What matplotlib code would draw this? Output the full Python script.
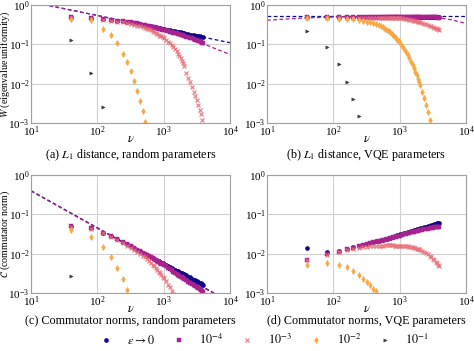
import matplotlib
matplotlib.use("Agg")
import matplotlib.pyplot as plt

# ---------------------------------------------------------------------------
# data
# ---------------------------------------------------------------------------
NU = [40, 80, 120, 160, 200, 240, 280, 320, 360, 400,
      440, 480, 520, 560, 600, 640, 680, 720, 760, 800, 840, 880, 920, 960, 1000,
      1080, 1160, 1240, 1320, 1400, 1480, 1560, 1640, 1720, 1800, 1880, 1960, 2040,
      2200, 2360, 2520, 2680, 2840, 3000, 3160, 3320, 3480, 3640, 3800, 3960]
NU_SHORT = [40, 80, 120, 160, 200, 240, 280, 320, 360, 400, 440, 480, 520]

LABELS = [r"$\epsilon \to 0$", r"$10^{-4}$", r"$10^{-3}$", r"$10^{-2}$", r"$10^{-1}$"]

# (a) L1 distance, random parameters
a_eps0 = [0.49, 0.46, 0.44, 0.42, 0.40, 0.385, 0.37, 0.36, 0.35, 0.34,
          0.33, 0.318, 0.308, 0.30, 0.292, 0.285, 0.279, 0.273, 0.268, 0.264,
          0.26, 0.255, 0.251, 0.248, 0.244,
          0.238, 0.232, 0.227, 0.222, 0.217, 0.213, 0.209, 0.206, 0.203, 0.200,
          0.197, 0.194, 0.191,
          0.186, 0.181, 0.177, 0.173, 0.170, 0.167, 0.164, 0.161, 0.159, 0.157,
          0.154, 0.152]
a_em4 = [0.49, 0.46, 0.44, 0.42, 0.40, 0.385, 0.37, 0.36, 0.35, 0.34,
         0.33, 0.318, 0.308, 0.30, 0.29, 0.282, 0.275, 0.268, 0.262, 0.256,
         0.251, 0.246, 0.241, 0.237, 0.233,
         0.225, 0.218, 0.211, 0.205, 0.199, 0.194, 0.189, 0.184, 0.18, 0.176,
         0.172, 0.168, 0.165,
         0.158, 0.152, 0.146, 0.141, 0.136, 0.131, 0.126, 0.122, 0.118, 0.113,
         0.109, 0.105]
a_em3 = [0.47, 0.45, 0.42, 0.40, 0.38, 0.36, 0.345, 0.33, 0.315, 0.30,
         0.288, 0.275, 0.262, 0.25, 0.24, 0.228, 0.217, 0.205, 0.195, 0.186,
         0.176, 0.167, 0.159, 0.151, 0.144,
         0.13, 0.117, 0.106, 0.095, 0.086, 0.075, 0.066, 0.057, 0.05, 0.044,
         0.038, 0.033, 0.028,
         0.019, 0.014, 0.011, 0.0083, 0.0063, 0.0049, 0.0038, 0.0029, 0.0021,
         0.0017, 0.0012, 0.0009]
a_em2 = [0.44, 0.41, 0.24, 0.17, 0.105, 0.058, 0.036, 0.021, 0.0118, 0.0066,
         0.0036, 0.002, 0.00107]
a_em1 = [0.128, 0.019, 0.0026]
a_fit_x = [10, 10000]
a_fit0 = [1.2, 0.11]
a_fit4_x = [10, 100, 1000, 2000, 4000, 10000]
a_fit4 = [1.2, 0.54, 0.235, 0.165, 0.102, 0.055]

# (b) L1 distance, VQE parameters
b_eps0 = [0.50, 0.50, 0.50, 0.50, 0.50, 0.50, 0.50, 0.50, 0.50, 0.50,
          0.50, 0.50, 0.50, 0.50, 0.50, 0.50, 0.50, 0.50, 0.50, 0.50,
          0.50, 0.50, 0.50, 0.50, 0.50,
          0.50, 0.50, 0.50, 0.50, 0.50, 0.50, 0.50, 0.50, 0.50, 0.50,
          0.50, 0.50, 0.50,
          0.50, 0.50, 0.50, 0.50, 0.50, 0.50, 0.50, 0.50, 0.50, 0.50,
          0.50, 0.50]
b_em4 = [0.49, 0.49, 0.49, 0.49, 0.49, 0.49, 0.49, 0.49, 0.49, 0.49,
         0.49, 0.49, 0.49, 0.49, 0.49, 0.49, 0.49, 0.49, 0.49, 0.49,
         0.49, 0.49, 0.49, 0.49, 0.49,
         0.49, 0.49, 0.49, 0.49, 0.49, 0.49, 0.49, 0.49, 0.49, 0.49,
         0.49, 0.49, 0.49,
         0.488, 0.488, 0.486, 0.486, 0.485, 0.485, 0.484, 0.483, 0.482, 0.481,
         0.48, 0.48]
b_em3 = [0.47, 0.48, 0.48, 0.48, 0.48, 0.48, 0.48, 0.48, 0.48, 0.48,
         0.48, 0.48, 0.48, 0.48, 0.48, 0.48, 0.48, 0.48, 0.477, 0.475,
         0.472, 0.47, 0.467, 0.464, 0.46,
         0.455, 0.448, 0.44, 0.433, 0.425, 0.418, 0.41, 0.402, 0.395, 0.387,
         0.38, 0.372, 0.365,
         0.35, 0.336, 0.322, 0.31, 0.298, 0.287, 0.276, 0.266, 0.257, 0.249,
         0.241, 0.235]
b_em2 = [0.46, 0.46, 0.45, 0.44, 0.43, 0.41, 0.40, 0.38, 0.365, 0.35,
         0.33, 0.31, 0.29, 0.27, 0.252, 0.235, 0.217, 0.20, 0.185, 0.17,
         0.157, 0.145, 0.132, 0.12, 0.11,
         0.093, 0.078, 0.065, 0.054, 0.044, 0.036, 0.03, 0.025, 0.02, 0.0165,
         0.0135, 0.011, 0.0092,
         0.0062, 0.0042, 0.0028, 0.0019, 0.0012, 0.0008]
b_em1 = [0.22, 0.087, 0.031, 0.011, 0.0041, 0.0015]
b_fit_x = [10, 10000]
b_fit0 = [0.515, 0.515]
b_fit4_x = [10, 20, 40, 80, 150, 1000, 3000, 4000, 6000, 10000]
b_fit4 = [0.41, 0.44, 0.47, 0.49, 0.50, 0.50, 0.49, 0.47, 0.42, 0.34]

# (c) Commutator norms, random parameters
c_eps0 = [0.05, 0.045, 0.034, 0.028, 0.023, 0.0195, 0.0172, 0.0153, 0.0138, 0.0125,
          0.0115, 0.0106, 0.0098, 0.0093, 0.0087, 0.0082, 0.0078, 0.0074, 0.0070,
          0.0067, 0.0064, 0.0062, 0.0059, 0.0057, 0.0055,
          0.0051, 0.0048, 0.0046, 0.0043, 0.0041, 0.0039, 0.0037, 0.0036, 0.0034,
          0.0033, 0.0032, 0.0031, 0.0030,
          0.0028, 0.0026, 0.0025, 0.0023, 0.0022, 0.0021, 0.0020, 0.0019, 0.0018,
          0.00175, 0.00168, 0.0016]
c_em4 = [0.05, 0.045, 0.034, 0.028, 0.023, 0.0195, 0.0172, 0.0153, 0.0138, 0.0125,
         0.0115, 0.0106, 0.0098, 0.0093, 0.0086, 0.0081, 0.0076, 0.0072, 0.0068,
         0.0065, 0.0062, 0.0059, 0.0056, 0.0054, 0.0052,
         0.0048, 0.0044, 0.0041, 0.0038, 0.0035, 0.0033, 0.0031, 0.0029, 0.0027,
         0.0026, 0.0025, 0.0024, 0.0023,
         0.0021, 0.0019, 0.0018, 0.0017, 0.0016, 0.0015, 0.0014, 0.00132, 0.00125,
         0.00118, 0.00111, 0.00105]
c_em3 = [0.047, 0.043, 0.033, 0.027, 0.022, 0.0185, 0.016, 0.014, 0.0124, 0.011,
         0.0098, 0.0088, 0.008, 0.0072, 0.0065, 0.0059, 0.0053, 0.0048, 0.0043,
         0.0039, 0.0035, 0.0032, 0.0029, 0.0026, 0.0024,
         0.002, 0.0016, 0.0014, 0.0011, 0.00092]
c_em2 = [0.04, 0.027, 0.015, 0.008, 0.0044, 0.0023, 0.0012]
c_em1 = [0.0027]
c_fit_x = [10, 10000]
c_fit0 = [0.40, 0.00059]
c_fit4 = [0.39, 0.00057]

# (d) Commutator norms, VQE parameters
d_eps0 = [0.014, 0.011, 0.0115, 0.013, 0.0148, 0.016, 0.017, 0.018, 0.019, 0.0198,
          0.0207, 0.0215, 0.022, 0.0225, 0.0233, 0.024, 0.0248, 0.0255, 0.0262,
          0.027, 0.0278, 0.0285, 0.0293, 0.030, 0.031,
          0.032, 0.0335, 0.0345, 0.0355, 0.0365, 0.0375, 0.0385, 0.0395, 0.0405,
          0.0415, 0.0422, 0.043, 0.044,
          0.0455, 0.047, 0.0485, 0.05, 0.0515, 0.053, 0.0545, 0.056, 0.0575,
          0.059, 0.0605, 0.062]
d_em4 = [0.0071, 0.0096, 0.0113, 0.0128, 0.0143, 0.0155, 0.0165, 0.0175, 0.0185,
         0.0193, 0.02, 0.0208, 0.0214, 0.022, 0.0227, 0.0233, 0.024, 0.0246,
         0.0252, 0.0258, 0.0264, 0.027, 0.0276, 0.0282, 0.0288,
         0.030, 0.031, 0.032, 0.033, 0.0338, 0.0346, 0.0354, 0.0362, 0.037,
         0.0377, 0.0383, 0.039, 0.0395,
         0.0405, 0.0415, 0.0424, 0.0432, 0.044, 0.0448, 0.0456, 0.0463, 0.047,
         0.0477, 0.0484, 0.049]
d_em3 = [0.0068, 0.0093, 0.011, 0.0124, 0.0135, 0.0143, 0.0148, 0.0152, 0.0155,
         0.0157, 0.0159, 0.016, 0.0161, 0.0161, 0.0162, 0.0162, 0.0162, 0.0162,
         0.0162, 0.0162, 0.0161, 0.0161, 0.016, 0.016, 0.0159,
         0.0158, 0.0157, 0.0155, 0.0153, 0.015, 0.0148, 0.0145, 0.0142, 0.0139,
         0.0135, 0.0132, 0.0128, 0.0125,
         0.0118, 0.011, 0.0103, 0.0096, 0.0089, 0.0082, 0.0075, 0.0069, 0.0063,
         0.0058, 0.0053, 0.0049]
d_em2 = [0.0053, 0.0058, 0.0053, 0.0045, 0.0036, 0.0028, 0.0023, 0.0019,
         0.0016, 0.0013, 0.0011]

# ---------------------------------------------------------------------------
# style
# ---------------------------------------------------------------------------
plt.rcParams['font.family'] = ['Liberation Serif', 'DejaVu Serif']
plt.rcParams['mathtext.fontset'] = 'stix'

COLORS = ['#0d0887', '#a8228f', '#e8707a', '#f9a73e', '#3a3a3a']
MARKERS = ['o', 's', 'x', 'd', '>']
SIZES = [3.0, 3.0, 3.5, 3.2, 2.4]


def scatter_series(ax, xs_list, ys_list):
    for i, (xs, ys) in enumerate(zip(xs_list, ys_list)):
        if ys is None:
            continue
        ax.plot(xs[:len(ys)], ys, linestyle='none', marker=MARKERS[i],
                color=COLORS[i], ms=SIZES[i],
                mew=0.9 if MARKERS[i] == 'x' else 0.3,
                alpha=0.85 if i == 2 else 1.0, label=LABELS[i])


def style_axes(ax, caption, cap_y, ylabel=None):
    ax.set_xscale('log')
    ax.set_yscale('log')
    ax.set_xlim(10, 1e4)
    ax.set_ylim(1e-3, 1)
    ax.grid(True, color='#d0d0d0', lw=0.8)
    ax.set_axisbelow(True)
    ax.minorticks_off()
    ax.tick_params(length=0, labelsize=8, pad=1)
    for s in ax.spines.values():
        s.set_color('#a0a0a0')
        s.set_linewidth(0.8)
    ax.set_xlabel(r"$\nu$", fontsize=9, labelpad=-4)
    if ylabel:
        ax.set_ylabel(ylabel, fontsize=7.2)
        ax.yaxis.set_label_coords(-0.095, 0.5)
    ax.text(0.5, cap_y, caption, transform=ax.transAxes, ha='center',
            va='center', fontsize=8.7)


fig = plt.figure(figsize=(4.74, 3.51), dpi=100)
ax_a = fig.add_axes([0.0654, 0.6496, 0.42, 0.3362])
ax_b = fig.add_axes([0.5633, 0.6496, 0.42, 0.3362])
ax_c = fig.add_axes([0.0654, 0.1652, 0.42, 0.3362])
ax_d = fig.add_axes([0.5633, 0.1652, 0.42, 0.3362])

# (a)
ax_a.plot(a_fit_x, a_fit0, '--', color=COLORS[0], lw=0.9, dashes=(3, 2))
ax_a.plot(a_fit4_x, a_fit4, '--', color=COLORS[1], lw=0.9, dashes=(3, 2))
scatter_series(ax_a, [NU, NU, NU, NU_SHORT, NU_SHORT],
               [a_eps0, a_em4, a_em3, a_em2, a_em1])
style_axes(ax_a, r"(a) $L_1$ distance, random parameters", -0.27,
           r"$W$ (eigenvalue uniformity)")

# (b)
ax_b.plot(b_fit_x, b_fit0, '--', color=COLORS[0], lw=0.9, dashes=(3, 2))
ax_b.plot(b_fit4_x, b_fit4, '--', color=COLORS[1], lw=0.9, dashes=(3, 2))
scatter_series(ax_b, [NU, NU, NU, NU, NU_SHORT],
               [b_eps0, b_em4, b_em3, b_em2, b_em1])
style_axes(ax_b, r"(b) $L_1$ distance, VQE parameters", -0.27)

# (c)
ax_c.plot(c_fit_x, c_fit0, '--', color=COLORS[0], lw=0.9, dashes=(3, 2))
ax_c.plot(c_fit_x, c_fit4, '--', color=COLORS[1], lw=0.9, dashes=(3, 2))
scatter_series(ax_c, [NU, NU, NU, NU_SHORT, NU_SHORT],
               [c_eps0, c_em4, c_em3, c_em2, c_em1])
style_axes(ax_c, "(c) Commutator norms, random parameters", -0.24,
           r"$\mathcal{C}$ (commutator norm)")

# (d)
scatter_series(ax_d, [NU, NU, NU, NU_SHORT, NU_SHORT],
               [d_eps0, d_em4, d_em3, d_em2, None])
style_axes(ax_d, "(d) Commutator norms, VQE parameters", -0.24)

handles, labels = ax_a.get_legend_handles_labels()
fig.legend(handles, labels, loc='center', bbox_to_anchor=(0.558, 0.032),
           ncol=5, frameon=False, fontsize=8.7, handlelength=1.0,
           handletextpad=1.2, columnspacing=1.5)

fig.savefig('out.png', dpi=100)
